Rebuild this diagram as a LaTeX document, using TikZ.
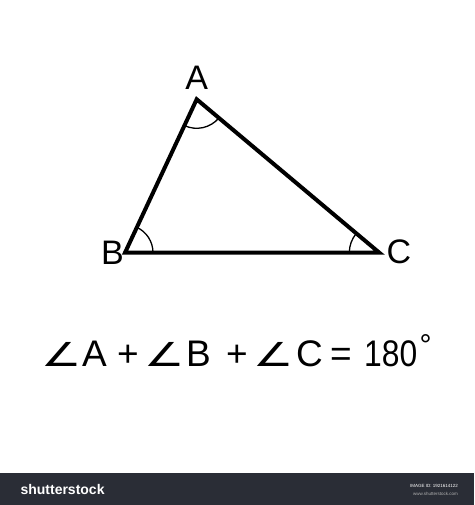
\documentclass[tikz,border=0pt]{standalone}
\usepackage{fontspec}
\setmainfont{Liberation Sans}
\newfontfamily\symfont{DejaVu Sans}
\usetikzlibrary{angles}
\definecolor{barcol}{HTML}{2A2D36}
\newcommand{\bigtext}{\fontsize{34}{34}\selectfont}
\newcommand{\eqtext}{\fontsize{37}{37}\selectfont}
\newcommand{\angsym}{{\symfont\fontsize{30}{30}\selectfont\scalebox{1.5}[1.1]{∠}}}

\tikzset{
  side/.style={line width=4pt},
  arcmark/.style={draw,line width=1.3pt,angle radius=29pt},
  vlabel/.style={font=\bigtext,inner sep=0pt},
  eqpart/.style={font=\eqtext,inner sep=0pt,anchor=base west},
}

\begin{document}
\begin{tikzpicture}[x=1pt,y=1pt]
\useasboundingbox[fill=white] (0,0) rectangle (474,505);
% triangle
\coordinate (A) at (196.7,405.7);
\coordinate (B) at (125,252.3);
\coordinate (C) at (379.3,252.3);
\draw[side] (A) -- (B) -- (C) -- cycle;
\pic[arcmark] {angle=B--A--C};
\pic[arcmark,angle radius=28pt] {angle=C--B--A};
\pic[arcmark,angle radius=30pt] {angle=A--C--B};
\node[vlabel] (la) at (196.7,427) {A};
\node[vlabel] (lb) at (112.5,252) {B};
\node[vlabel] (lc) at (399,253) {C};
% equation
\node[eqpart] (e1) at (41,138) {\angsym};
\node[eqpart] (e2) at (82,138) {A};
\node[eqpart] (e3) at (117,138) {+};
\node[eqpart] (e4) at (144,138) {\angsym};
\node[eqpart] (e5) at (186,138) {B};
\node[eqpart] (e6) at (226,138) {+};
\node[eqpart] (e7) at (253,138) {\angsym};
\node[eqpart] (e8) at (296,138) {C};
\node[eqpart] (e9) at (330,138) {=};
\node[eqpart] (e10) at (364,138) {\scalebox{0.86}[1]{180}};
\node[eqpart,font=\fontsize{30}{30}\selectfont] (e11) at (419.5,149) {°};
% bottom bar
\fill[barcol] (0,0) rectangle (474,32);
\node[anchor=west,text=white,font=\fontsize{14}{14}\selectfont\bfseries] (logo) at (17,16) {shutterstock};
\node[anchor=east,text=white,font=\fontsize{4.5}{4.5}\selectfont,inner sep=0pt] (imgid) at (458,19.5) {IMAGE ID: 1921614122};
\node[anchor=east,text=white!70!black,font=\fontsize{4.5}{4.5}\selectfont,inner sep=0pt] (site) at (458,11.5) {www.shutterstock.com};
\end{tikzpicture}
\end{document}
